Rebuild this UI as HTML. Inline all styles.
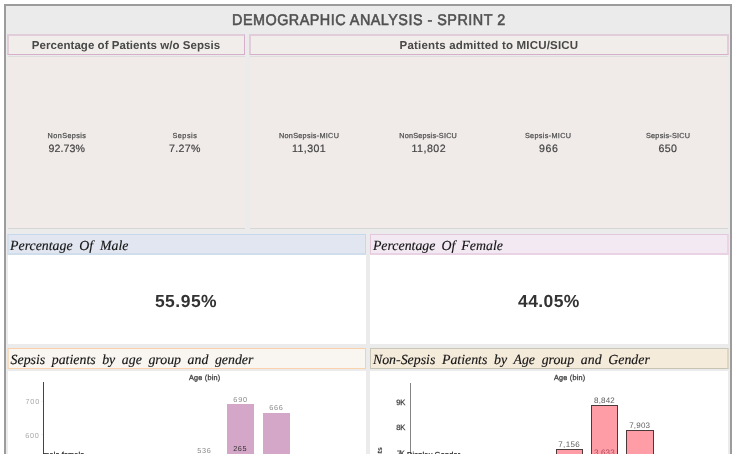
<!DOCTYPE html>
<html lang="en"><head><meta charset="utf-8"><title>Demographic Analysis - Sprint 2</title>
<style>
html,body{margin:0;padding:0}
body{background:#fff;width:736px;height:454px;overflow:hidden;position:relative;font-family:"Liberation Sans",sans-serif}
div,span{box-sizing:border-box}
.abs,.t{position:absolute}
.t{margin:0;padding:0;white-space:pre;line-height:1;text-rendering:geometricPrecision}
#frame{left:4px;top:4px;width:728px;height:470px;border:2px solid #9c9c9c;background:#ebebeb}
.hbox{background:#f1edea;border-style:solid;border-color:#e1cdda #d5afca #d5afca #e1cdda}
.rule{height:1px;background:#dcdddc}
.panel{background:#f0ebe9}
.white{background:#fff}
.sec{border:1px solid}
.bar1{background:#d4a6c8}
.bar2{background:#ff9da7;border:1px solid #4a3a3c;border-bottom:none}
.axis{width:1px}

</style></head>
<body>
<div id="frame" class="abs"></div>

<!-- top row: KPI cards -->
<div class="abs hbox" style="left:7px;top:34px;width:238px;height:21px;border-width:2px 1px 1px 2px"></div>
<div class="abs rule" style="left:8px;top:56px;width:237px"></div>
<div class="abs panel" style="left:8px;top:57px;width:237px;height:171px"></div>
<div class="abs rule" style="left:8px;top:228px;width:237px;background:#d6d6d6"></div>

<div class="abs hbox" style="left:249px;top:34px;width:480px;height:21px;border-width:2px 2px 1px 2px;border-right-color:#e1cdda"></div>
<div class="abs rule" style="left:250px;top:56px;width:478px"></div>
<div class="abs panel" style="left:250px;top:57px;width:478px;height:171px"></div>
<div class="abs rule" style="left:250px;top:228px;width:478px;background:#d6d6d6"></div>

<!-- gender percentages -->
<div class="abs sec" style="left:7px;top:234px;width:359px;height:21px;background:#e1e6f1;border-color:#c6d9ec #c6d9ec #d0deec #d3e0ee;border-width:1px 1px 2px 2px"></div>
<div class="abs white" style="left:8px;top:255px;width:358px;height:89px"></div>
<div class="abs sec" style="left:370px;top:234px;width:359px;height:21px;background:#f2e9f3;border-color:#e3c8dd #ead5e5 #e8d2e3 #e3c8dd;border-width:1px 2px 2px 1px"></div>
<div class="abs white" style="left:370px;top:255px;width:358px;height:89px"></div>

<!-- charts -->
<div class="abs sec" style="left:7px;top:348px;width:359px;height:21px;background:#f9f5f1;border-color:#f8cfa8 #f8cfa8 #fad2ab #f8dcc2;border-width:1px 1px 1px 2px"></div>
<div class="abs white" style="left:8px;top:371px;width:358px;height:90px"></div>
<div class="abs axis" style="left:43px;top:382px;height:80px;background:#444"></div>
<div class="abs" style="left:41px;top:401px;width:2px;height:1px;background:#f2f2f2"></div>
<div class="abs" style="left:41px;top:434px;width:2px;height:1px;background:#f2f2f2"></div>
<div class="abs bar1" style="left:227px;top:404px;width:27px;height:60px"></div>
<div class="abs bar1" style="left:263px;top:413px;width:27px;height:60px"></div>

<div class="abs sec" style="left:370px;top:348px;width:359px;height:21px;background:#f5ebdb;border-color:#c9c6ba #ddd6c8 #c8c4b4 #cbc7b8;border-width:1px 2px 1px 1px"></div>
<div class="abs white" style="left:370px;top:371px;width:358px;height:90px"></div>
<div class="abs axis" style="left:410px;top:383px;height:80px;background:#858585"></div>
<div class="abs bar2" style="left:556px;top:449px;width:27px;height:20px"></div>
<div class="abs bar2" style="left:591px;top:405px;width:27px;height:60px"></div>
<div class="abs bar2" style="left:626px;top:430px;width:28px;height:40px"></div>
<div class="abs" style="left:376.97px;top:447.4px;width:0;height:0;transform:rotate(-90deg);transform-origin:0 0"><span style="position:absolute;right:0;top:0;white-space:pre;line-height:1;text-rendering:geometricPrecision;font-size:7px;font-weight:700;color:#333">Count of Patients</span></div>

<h1 class="t" id="t0" style='left:231.66px;top:12.88px;font-family:"Liberation Sans", sans-serif;font-size:15.5px;font-weight:400;font-style:normal;color:#505050;letter-spacing:0.507px;-webkit-text-stroke:0.55px #505050;transform:scaleX(0.93);transform-origin:0 0;'>DEMOGRAPHIC ANALYSIS - SPRINT 2</h1>
<h2 class="t" id="t1" style='left:31.83px;top:41.27px;font-family:"Liberation Sans", sans-serif;font-size:11.5px;font-weight:700;font-style:normal;color:#484848;letter-spacing:0.053px;'>Percentage of Patients w/o Sepsis</h2>
<h2 class="t" id="t2" style='left:399.55px;top:41.27px;font-family:"Liberation Sans", sans-serif;font-size:11.5px;font-weight:700;font-style:normal;color:#484848;letter-spacing:0.185px;'>Patients admitted to MICU/SICU</h2>
<span class="t" id="t3" style='left:47.62px;top:131.86px;font-family:"Liberation Sans", sans-serif;font-size:7.25px;font-weight:400;font-style:normal;color:#505050;letter-spacing:0.408px;-webkit-text-stroke:0.25px #505050;'>NonSepsis</span>
<span class="t" id="t4" style='left:172.40px;top:131.86px;font-family:"Liberation Sans", sans-serif;font-size:7.25px;font-weight:400;font-style:normal;color:#505050;letter-spacing:0.543px;-webkit-text-stroke:0.25px #505050;'>Sepsis</span>
<span class="t" id="t5" style='left:278.92px;top:131.86px;font-family:"Liberation Sans", sans-serif;font-size:7.25px;font-weight:400;font-style:normal;color:#505050;letter-spacing:0.307px;-webkit-text-stroke:0.25px #505050;'>NonSepsis-MICU</span>
<span class="t" id="t6" style='left:399.19px;top:131.86px;font-family:"Liberation Sans", sans-serif;font-size:7.25px;font-weight:400;font-style:normal;color:#505050;letter-spacing:0.220px;-webkit-text-stroke:0.25px #505050;'>NonSepsis-SICU</span>
<span class="t" id="t7" style='left:524.92px;top:131.86px;font-family:"Liberation Sans", sans-serif;font-size:7.25px;font-weight:400;font-style:normal;color:#505050;letter-spacing:0.344px;-webkit-text-stroke:0.25px #505050;'>Sepsis-MICU</span>
<span class="t" id="t8" style='left:645.98px;top:131.86px;font-family:"Liberation Sans", sans-serif;font-size:7.25px;font-weight:400;font-style:normal;color:#505050;letter-spacing:0.259px;-webkit-text-stroke:0.25px #505050;'>Sepsis-SICU</span>
<span class="t" id="t9" style='left:48.43px;top:144.03px;font-family:"Liberation Sans", sans-serif;font-size:10.6px;font-weight:400;font-style:normal;color:#444;letter-spacing:0.133px;-webkit-text-stroke:0.2px #444;'>92.73%</span>
<span class="t" id="t10" style='left:169.05px;top:144.03px;font-family:"Liberation Sans", sans-serif;font-size:10.6px;font-weight:400;font-style:normal;color:#444;letter-spacing:0.307px;-webkit-text-stroke:0.2px #444;'>7.27%</span>
<span class="t" id="t11" style='left:292.03px;top:144.03px;font-family:"Liberation Sans", sans-serif;font-size:10.6px;font-weight:400;font-style:normal;color:#444;letter-spacing:0.412px;-webkit-text-stroke:0.2px #444;'>11,301</span>
<span class="t" id="t12" style='left:411.53px;top:144.03px;font-family:"Liberation Sans", sans-serif;font-size:10.6px;font-weight:400;font-style:normal;color:#444;letter-spacing:0.482px;-webkit-text-stroke:0.2px #444;'>11,802</span>
<span class="t" id="t13" style='left:539.09px;top:144.03px;font-family:"Liberation Sans", sans-serif;font-size:10.6px;font-weight:400;font-style:normal;color:#444;letter-spacing:0.602px;-webkit-text-stroke:0.2px #444;'>966</span>
<span class="t" id="t14" style='left:658.48px;top:144.03px;font-family:"Liberation Sans", sans-serif;font-size:10.6px;font-weight:400;font-style:normal;color:#444;letter-spacing:0.314px;-webkit-text-stroke:0.2px #444;'>650</span>
<span class="t" id="t15" style='left:154.88px;top:293.19px;font-family:"Liberation Sans", sans-serif;font-size:17.5px;font-weight:700;font-style:normal;color:#333;letter-spacing:0.488px;'>55.95%</span>
<span class="t" id="t16" style='left:517.99px;top:293.19px;font-family:"Liberation Sans", sans-serif;font-size:17.5px;font-weight:700;font-style:normal;color:#333;letter-spacing:0.416px;'>44.05%</span>
<h2 class="t" id="t17" style='left:10.06px;top:239.40px;font-family:"Liberation Serif", serif;font-size:13.85px;font-weight:400;font-style:italic;color:#151515;word-spacing:3.339px;-webkit-text-stroke:0.15px #151515;'>Percentage Of Male</h2>
<h2 class="t" id="t18" style='left:372.88px;top:239.40px;font-family:"Liberation Serif", serif;font-size:13.85px;font-weight:400;font-style:italic;color:#151515;word-spacing:2.602px;-webkit-text-stroke:0.15px #151515;'>Percentage Of Female</h2>
<h2 class="t" id="t19" style='left:10.58px;top:353.40px;font-family:"Liberation Serif", serif;font-size:13.85px;font-weight:400;font-style:italic;color:#151515;word-spacing:3.127px;-webkit-text-stroke:0.15px #151515;'>Sepsis patients by age group and gender</h2>
<h2 class="t" id="t20" style='left:372.97px;top:353.40px;font-family:"Liberation Serif", serif;font-size:13.85px;font-weight:400;font-style:italic;color:#151515;word-spacing:3.202px;-webkit-text-stroke:0.15px #151515;'>Non-Sepsis Patients by Age group and Gender</h2>
<span class="t" id="t21" style='left:189.01px;top:373.86px;font-family:"Liberation Sans", sans-serif;font-size:7.25px;font-weight:400;font-style:normal;color:#484848;letter-spacing:0.229px;-webkit-text-stroke:0.35px #484848;'>Age (bin)</span>
<span class="t" id="t22" style='left:25.55px;top:397.86px;font-family:"Liberation Sans", sans-serif;font-size:7.25px;font-weight:400;font-style:normal;color:#aaa;letter-spacing:0.770px;'>700</span>
<span class="t" id="t23" style='left:25.32px;top:431.86px;font-family:"Liberation Sans", sans-serif;font-size:7.25px;font-weight:400;font-style:normal;color:#aaa;letter-spacing:0.641px;'>600</span>
<span class="t" id="t24" style='left:233.30px;top:395.86px;font-family:"Liberation Sans", sans-serif;font-size:7.25px;font-weight:400;font-style:normal;color:#888;letter-spacing:0.875px;'>690</span>
<span class="t" id="t25" style='left:269.24px;top:403.86px;font-family:"Liberation Sans", sans-serif;font-size:7.25px;font-weight:400;font-style:normal;color:#888;letter-spacing:0.727px;'>666</span>
<span class="t" id="t26" style='left:197.32px;top:446.86px;font-family:"Liberation Sans", sans-serif;font-size:7.25px;font-weight:400;font-style:normal;color:#888;letter-spacing:0.743px;'>536</span>
<span class="t" id="t27" style='left:233.28px;top:444.86px;font-family:"Liberation Sans", sans-serif;font-size:7.25px;font-weight:400;font-style:normal;color:#333;letter-spacing:0.546px;'>265</span>
<span class="t" id="t28" style='left:43.28px;top:450.86px;font-family:"Liberation Sans", sans-serif;font-size:7.25px;font-weight:400;font-style:normal;color:#222;letter-spacing:0.149px;-webkit-text-stroke:0.25px #222;'>male female</span>
<span class="t" id="t29" style='left:554.01px;top:373.86px;font-family:"Liberation Sans", sans-serif;font-size:7.25px;font-weight:400;font-style:normal;color:#484848;letter-spacing:0.229px;-webkit-text-stroke:0.35px #484848;'>Age (bin)</span>
<span class="t" id="t30" style='left:396.35px;top:399.48px;font-family:"Liberation Sans", sans-serif;font-size:7.7px;font-weight:400;font-style:normal;color:#444;letter-spacing:-0.326px;-webkit-text-stroke:0.25px #444;'>9K</span>
<span class="t" id="t31" style='left:396.32px;top:424.48px;font-family:"Liberation Sans", sans-serif;font-size:7.7px;font-weight:400;font-style:normal;color:#444;letter-spacing:-0.295px;-webkit-text-stroke:0.25px #444;'>8K</span>
<span class="t" id="t32" style='left:396.90px;top:450.48px;font-family:"Liberation Sans", sans-serif;font-size:7.7px;font-weight:400;font-style:normal;color:#444;letter-spacing:-1.306px;-webkit-text-stroke:0.25px #444;'>7K</span>
<span class="t" id="t33" style='left:594.02px;top:397.23px;font-family:"Liberation Sans", sans-serif;font-size:8px;font-weight:400;font-style:normal;color:#5e5e5e;letter-spacing:0.196px;'>8,842</span>
<span class="t" id="t34" style='left:629.14px;top:422.23px;font-family:"Liberation Sans", sans-serif;font-size:8px;font-weight:400;font-style:normal;color:#5e5e5e;letter-spacing:0.232px;'>7,903</span>
<span class="t" id="t35" style='left:558.25px;top:441.23px;font-family:"Liberation Sans", sans-serif;font-size:8px;font-weight:400;font-style:normal;color:#5e5e5e;letter-spacing:0.378px;'>7,156</span>
<span class="t" id="t36" style='left:593.90px;top:449.23px;font-family:"Liberation Sans", sans-serif;font-size:8px;font-weight:400;font-style:normal;color:#a84858;letter-spacing:0.202px;'>3,633</span>
<span class="t" id="t37" style='left:407.00px;top:450.86px;font-family:"Liberation Sans", sans-serif;font-size:7.25px;font-weight:400;font-style:normal;color:#222;letter-spacing:0.249px;-webkit-text-stroke:0.25px #222;'>Display Gender</span>

</body></html>
